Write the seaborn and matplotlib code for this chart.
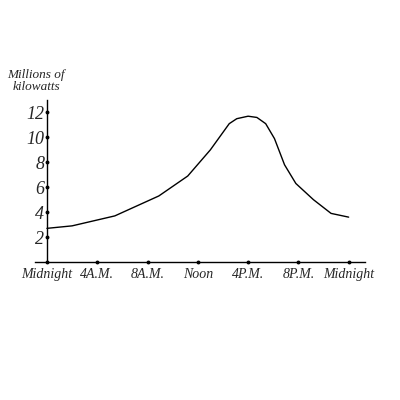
import matplotlib
matplotlib.use("Agg")
import matplotlib.pyplot as plt
import seaborn as sns

# hours since midnight and demand (millions of kilowatts)
hours = [0, 2, 5.4, 8.9, 11.2, 13, 14.5, 15.1, 16, 16.7, 17.4, 18.1, 18.9, 19.8, 21.2, 22.6, 24]
demand = [2.7, 2.9, 3.7, 5.3, 6.9, 9.0, 11.1, 11.5, 11.7, 11.6, 11.1, 9.9, 7.8, 6.3, 5.0, 3.9, 3.6]

x_ticks = [0, 4, 8, 12, 16, 20, 24]
x_labels = ["Midnight", "4A.M.", "8A.M.", "Noon", "4P.M.", "8P.M.", "Midnight"]
y_ticks = [2, 4, 6, 8, 10, 12]

sns.set_style("white")
plt.rcParams['font.family'] = ['Liberation Serif', 'DejaVu Serif']
plt.rcParams['font.style'] = 'italic'

fig = plt.figure(figsize=(4, 4), dpi=100)
ax = fig.add_axes([0.0875, 0.345, 0.825, 0.405])

sns.lineplot(x=hours, y=demand, color='black', linewidth=1, ax=ax)

ax.set_xlim(-0.95, 25.3)
ax.set_ylim(0, 13)

# axes: only left and bottom, left one crossing at midnight
for s in ['top', 'right']:
    ax.spines[s].set_visible(False)
ax.spines['left'].set_position(('data', 0))
ax.spines['left'].set_color('black')
ax.spines['bottom'].set_color('black')
ax.spines['left'].set_linewidth(1)
ax.spines['bottom'].set_linewidth(1)

ax.set_xticks(x_ticks)
ax.set_xticklabels(x_labels, fontsize=10)
ax.set_yticks(y_ticks)
ax.set_yticklabels([str(v) for v in y_ticks], fontsize=13)
ax.tick_params(axis='both', length=0)
ax.tick_params(axis='x', pad=4)
ax.tick_params(axis='y', pad=2)

# dots at tick positions
ax.plot(x_ticks, [0] * len(x_ticks), 'o', color='black', markersize=1.8, clip_on=False)
ax.plot([0] * len(y_ticks), y_ticks, 'o', color='black', markersize=1.8, clip_on=False)

fig.text(0.09, 0.797, "Millions of\nkilowatts", ha='center', va='center',
         fontsize=9.5, linespacing=0.95)

fig.savefig("out.png", dpi=100, facecolor='white')
